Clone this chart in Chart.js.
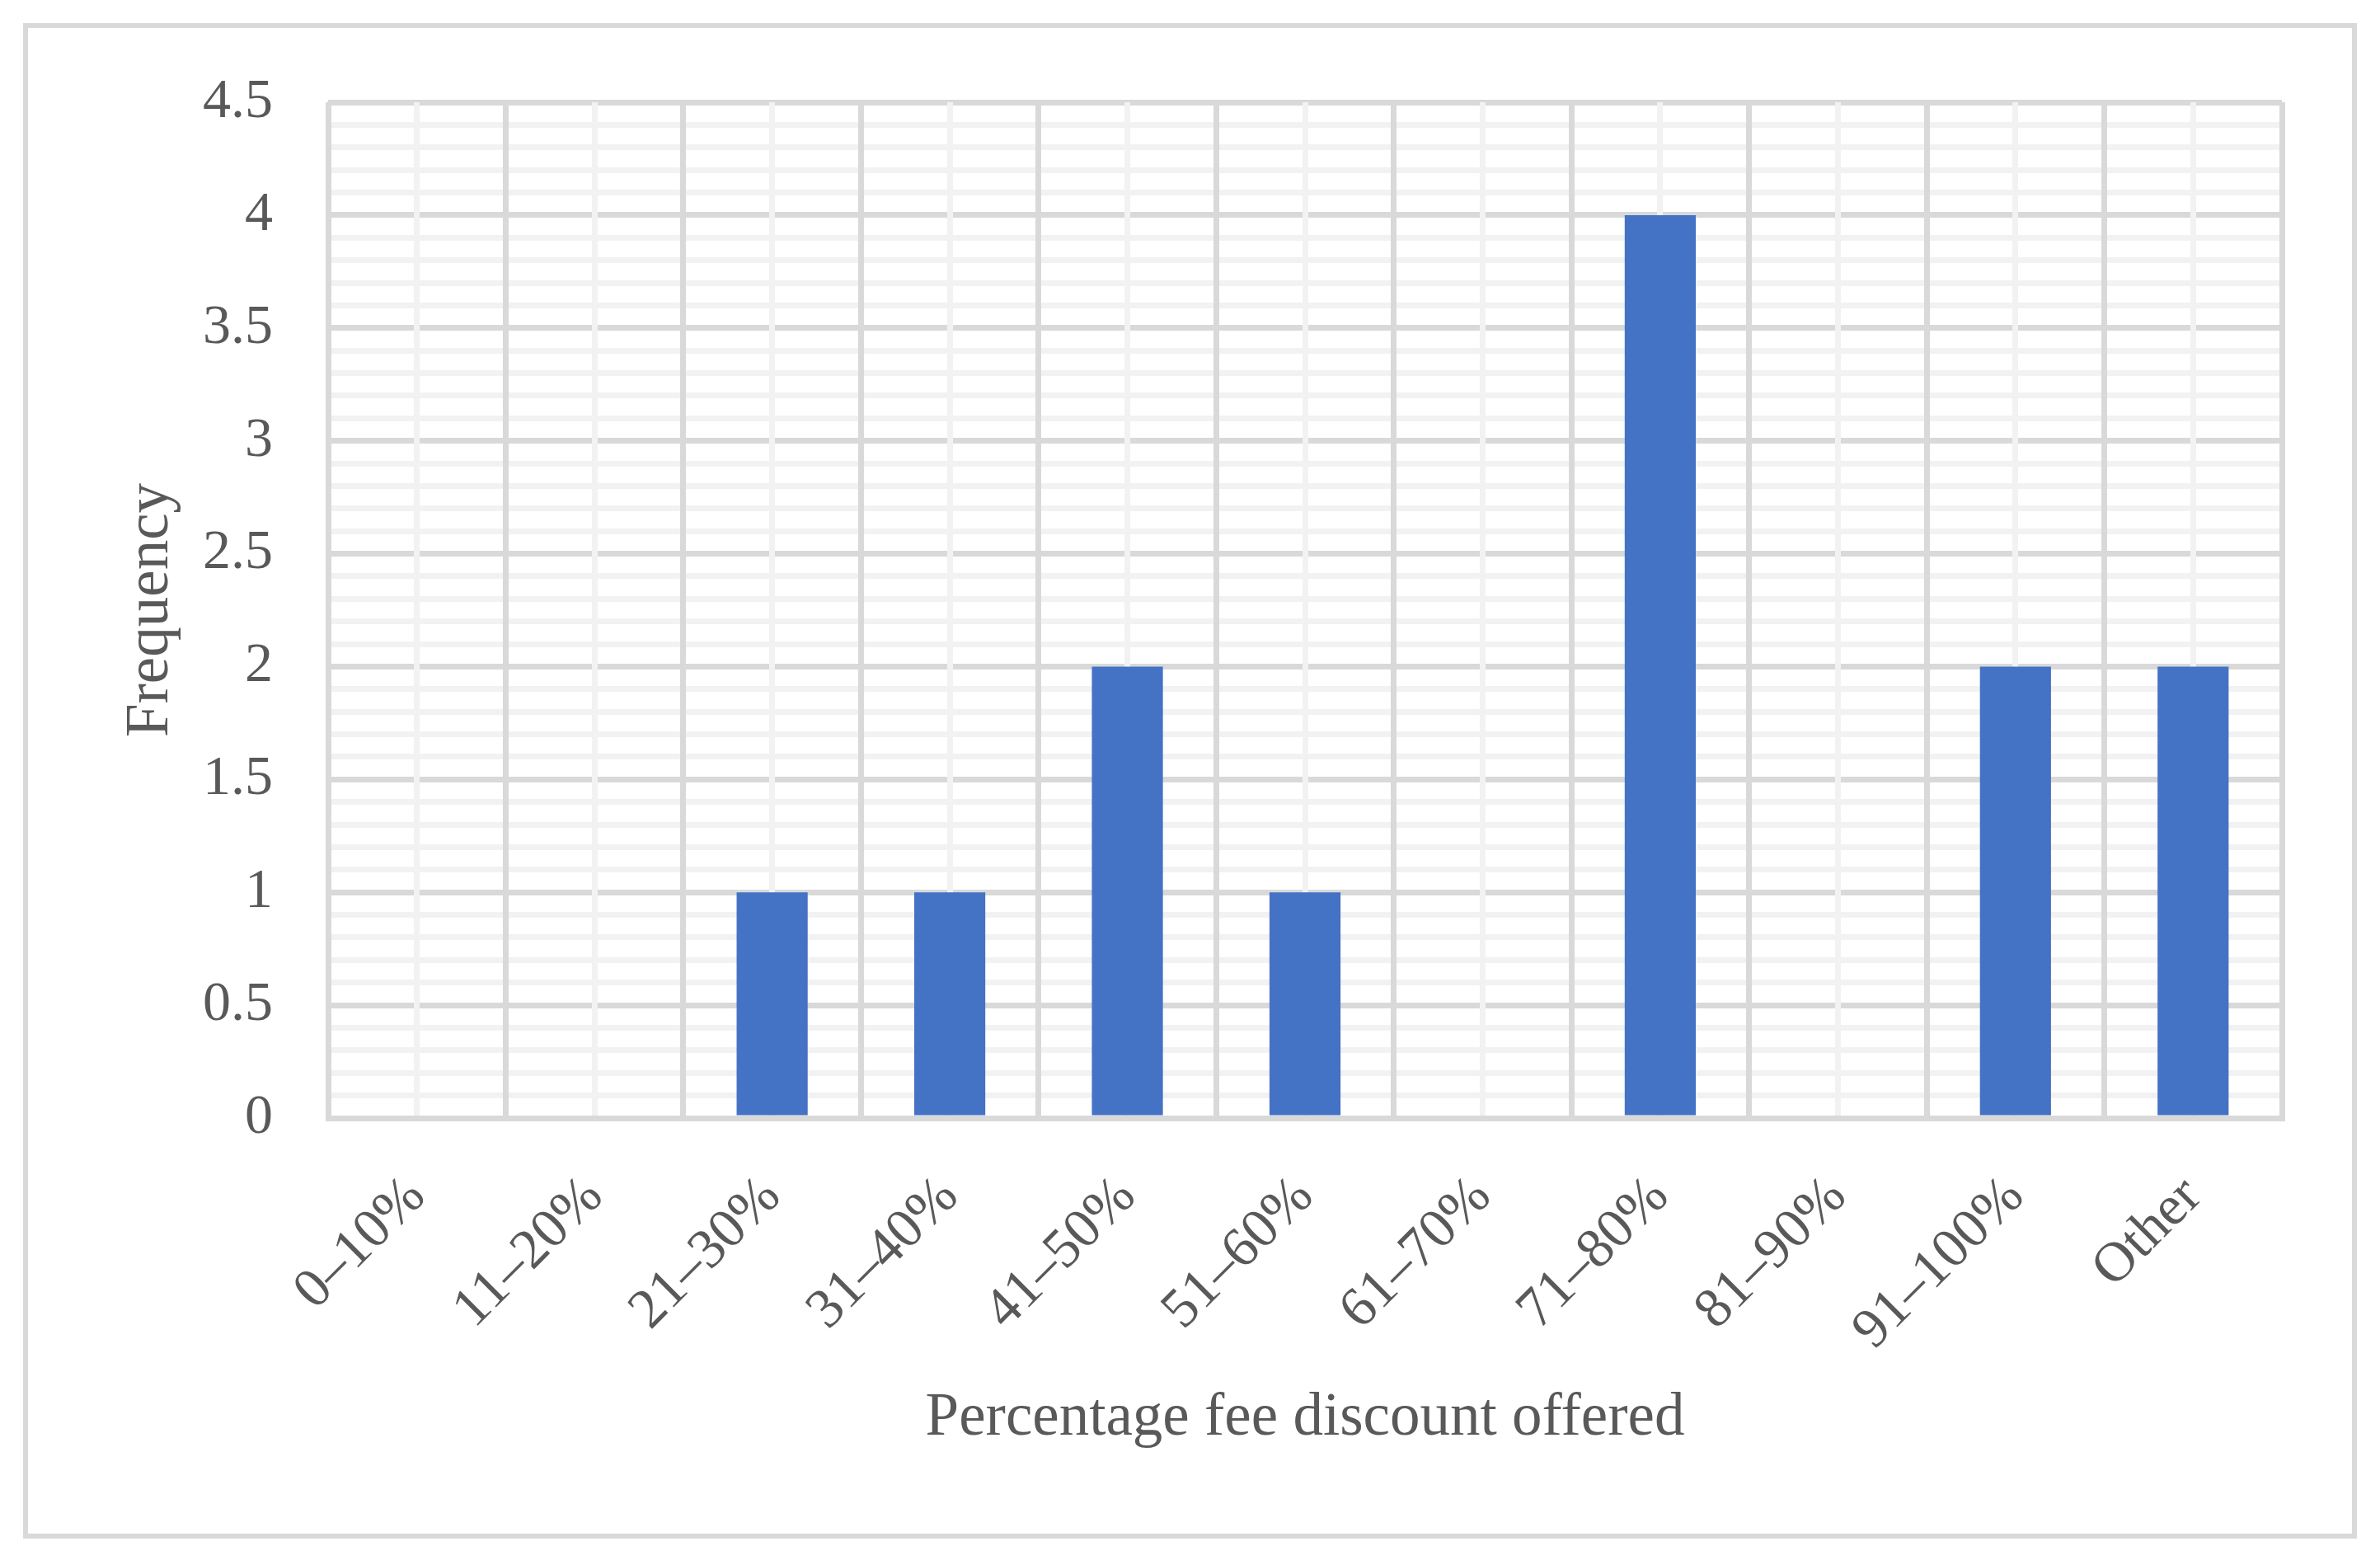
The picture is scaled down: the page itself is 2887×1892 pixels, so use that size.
<!DOCTYPE html>
<html>
<head>
<meta charset="utf-8">
<title>Percentage fee discount offered</title>
<script src="https://cdn.jsdelivr.net/npm/chart.js@4.4.1/dist/chart.umd.min.js"></script>
<style>
    html, body { margin: 0; padding: 0; background: #ffffff; }
    #wrap { position: relative; width: 2887px; height: 1892px; }
    #frame {
        position: absolute; left: 28px; top: 28px;
        width: 2831px; height: 1838px;
        border: 6px solid #d9d9d9; box-sizing: border-box;
    }
    #chart { position: absolute; left: 0; top: 0; }
</style>
</head>
<body>
<div id="wrap">
    <div id="frame"></div>
    <canvas id="chart" width="2887" height="1892"></canvas>
</div>
<script>
// Dados do gráfico
const categories = ['0–10%', '11–20%', '21–30%', '31–40%', '41–50%', '51–60%',
                    '61–70%', '71–80%', '81–90%', '91–100%', 'Other'];
const frequency = [0, 0, 1, 1, 2, 1, 0, 4, 0, 2, 2];
const yTickLabels = ['0', '0.5', '1', '1.5', '2', '2.5', '3', '3.5', '4', '4.5'];
const xTitle = 'Percentage fee discount offered';
const yTitle = 'Frequency';

const textColor = '#595959';
const majorGrid = '#d9d9d9';
const minorGrid = '#f2f2f2';
const family = "'Liberation Serif', 'DejaVu Serif', serif";
const tickFont = { family: family, size: 68 };
const titleFont = { family: family, size: 73 };

const ctx = document.getElementById('chart').getContext('2d');

const chart = new Chart(ctx, {
    type: 'bar',
    data: {
        labels: categories,
        datasets: [{
            label: yTitle,
            data: frequency,
            backgroundColor: '#4472c4',
            borderWidth: 0,
            barPercentage: 0.4,
            categoryPercentage: 1.0
        }]
    },
    options: {
        responsive: false,
        animation: false,
        layout: { padding: { left: 140, top: 124, right: 119, bottom: 127 } },
        plugins: {
            legend: { display: false },
            tooltip: { enabled: false }
        },
        scales: {
            // linhas de grade secundárias (horizontais)
            yMinor: {
                type: 'linear',
                position: 'left',
                min: 0,
                max: 4.5,
                ticks: { display: false, stepSize: 0.1 },
                grid: { color: minorGrid, lineWidth: 7, drawTicks: false, z: -4 },
                border: { display: false },
                afterFit: s => { s.width = 0; }
            },
            y: {
                type: 'linear',
                position: 'left',
                min: 0,
                max: 4.5,
                ticks: {
                    stepSize: 0.5,
                    padding: 67,
                    color: textColor,
                    font: tickFont,
                    callback: (v, i) => yTickLabels[i]
                },
                grid: { color: majorGrid, lineWidth: 7, drawTicks: false, z: -3 },
                border: { display: false },
                title: { display: true, text: yTitle, color: textColor, font: titleFont, padding: 0 },
                afterFit: s => { s.width = 258; }
            },
            // linhas de grade secundárias (verticais, no centro de cada categoria)
            xMinor: {
                type: 'category',
                position: 'bottom',
                labels: categories,
                offset: true,
                ticks: { display: false },
                grid: { offset: false, color: minorGrid, lineWidth: 7, drawTicks: false, z: -2 },
                border: { display: false },
                afterFit: s => { s.height = 0; }
            },
            x: {
                type: 'category',
                position: 'bottom',
                offset: true,
                ticks: {
                    color: textColor,
                    font: tickFont,
                    minRotation: 45,
                    maxRotation: 45,
                    autoSkip: false,
                    padding: 56
                },
                grid: { offset: true, color: majorGrid, lineWidth: 7, drawTicks: false, z: -1 },
                border: { color: majorGrid, width: 7 },
                title: { display: true, text: xTitle, color: textColor, font: titleFont, padding: 0 },
                afterFit: s => { s.height = 409; }
            }
        }
    }
});
</script>
</body>
</html>
